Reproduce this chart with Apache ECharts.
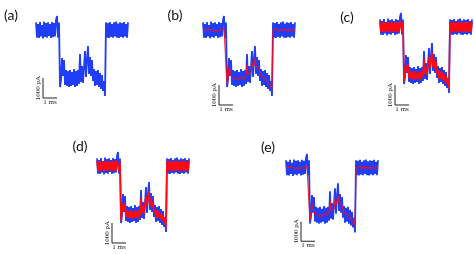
<!DOCTYPE html>
<html>
<head>
<meta charset="utf-8">
<script src="https://cdn.jsdelivr.net/npm/echarts@6/dist/echarts.min.js"></script>
<style>
html, body { margin: 0; padding: 0; background: #fff; }
#chart { width: 474px; height: 254px; }
</style>
</head>
<body>
<div id="chart"></div>
<script>
// current trace, one sample per index, pA
const samplesPerMs = 14
const scaleBarPA = 1000
const panelLabels = ['(a)', '(b)', '(c)', '(d)', '(e)']

// raw measured trace (blue)
const blueCurrent = [
	4380, 3620, 4300, 3600, 4400, 3680, 4250, 3580, 4420, 3650,
	4350, 3620, 4380, 3700, 4300, 3600, 4400, 3640, 4350, 3680,
	4500, 4700, 3620, 4380,
	1150, 1500, 2600, 1700, 2500, 1250, 2000, 1200, 1950, 1150,
	2000, 1200, 1900, 1250, 2050, 1150, 1950, 1200, 2000, 1300,
	2800, 1400, 2200, 1350, 2150, 2950, 1650, 2550, 3200, 1800,
	2650, 1700, 2500, 1450, 2050, 1200, 1950, 1250, 2000, 1150,
	1850, 1050, 1750, 950, 1450, 700,
	4380, 3620, 4350, 3600, 4400, 3650, 4300, 3620, 4380, 3680,
	4420, 3620, 4320, 3600, 4380, 3650, 4350, 3620, 4400, 3680,
	4300, 3620, 4380
]

// denoised trace, thin line (b, e)
const redSmooth = [
	4000, 4030, 3980, 4020, 3970, 4010, 4040, 3990, 4000, 3960,
	4030, 4000, 3980, 4020, 4000, 3970, 4030, 3990, 4010, 4000,
	4060, 4080, 3990, 4010,
	1300, 1600, 2200, 1900, 2000, 1600, 1650, 1550, 1600, 1550,
	1600, 1500, 1550, 1600, 1650, 1550, 1600, 1550, 1650, 1700,
	2300, 1800, 1850, 1800, 1900, 2400, 2100, 2300, 2600, 2200,
	2250, 2100, 2050, 1800, 1700, 1650, 1600, 1600, 1600, 1550,
	1450, 1400, 1350, 1250, 1200, 1050,
	4000, 4050, 3950, 4060, 3960, 4040, 3950, 4060, 3970, 4050,
	3940, 4060, 3960, 4050, 3950, 4040, 3960, 4060, 3950, 4050,
	3970, 4040, 3960
]

// denoised trace, noisy band (c, d)
const redNoisy = [
	4250, 3760, 4220, 3740, 4260, 3780, 4200, 3750, 4240, 3770,
	4230, 3740, 4250, 3780, 4210, 3750, 4260, 3760, 4230, 3740,
	4300, 4350, 3760, 4240,
	1250, 1700, 2100, 1750, 2150, 1450, 1800, 1400, 1750, 1400,
	1800, 1350, 1700, 1400, 1800, 1400, 1750, 1350, 1800, 1500,
	2400, 1650, 2000, 1600, 2050, 2500, 1950, 2400, 2750, 2000,
	2400, 1900, 2250, 1650, 1850, 1400, 1800, 1400, 1750, 1350,
	1650, 1250, 1550, 1150, 1400, 900,
	4240, 3760, 4230, 3750, 4260, 3770, 4220, 3740, 4250, 3780,
	4260, 3750, 4220, 3740, 4250, 3770, 4240, 3750, 4260, 3760,
	4230, 3750, 4250
]

const layout = [
	{ left: 36, top: 14, fit: null, bar: [7, 600], label: [11, 15] },
	{ left: 203, top: 14, fit: redSmooth, bar: [16, 250], label: [175, 15] },
	{ left: 380, top: 11, fit: redNoisy, bar: [15, 100], label: [347, 17] },
	{ left: 97, top: 150, fit: redNoisy, bar: [15, 150], label: [80, 146] },
	{ left: 286, top: 152, fit: redSmooth, bar: [15, 250], label: [268, 147] }
]

const toPairs = arr => arr.map((v, i) => [i, v])

const chart = echarts.init(document.getElementById('chart'), null, { renderer: 'canvas' })

let grids = [], xAxes = [], yAxes = [], series = []
layout.forEach((p, i) => {
	grids.push({ left: p.left, top: p.top, width: 92, height: 104 })
	xAxes.push({ type: 'value', gridIndex: i, min: 0, max: 92, show: false })
	yAxes.push({ type: 'value', gridIndex: i, min: -400, max: 4800, show: false })
	series.push({
		type: 'line', xAxisIndex: i, yAxisIndex: i, data: toPairs(blueCurrent),
		symbol: 'none', silent: true, z: 2,
		lineStyle: { color: '#1f3ef5', width: 1.8 }
	})
	if (p.fit) {
		const smooth = p.fit === redSmooth
		series.push({
			type: 'line', xAxisIndex: i, yAxisIndex: i, data: toPairs(p.fit),
			symbol: 'none', silent: true, z: 3,
			lineStyle: { color: '#ff0a14', width: smooth ? 1.2 : 1.6, opacity: smooth ? 0.85 : 1 }
		})
	}
	// scale bar
	const [x0, yb] = p.bar
	series.push({
		type: 'line', xAxisIndex: i, yAxisIndex: i,
		data: [[x0, yb + scaleBarPA], [x0, yb], [x0 + samplesPerMs, yb]],
		symbol: 'none', silent: true, z: 4,
		lineStyle: { color: '#222', width: 1 }
	})
})

chart.setOption({
	animation: false,
	backgroundColor: '#fff',
	grid: grids,
	xAxis: xAxes,
	yAxis: yAxes,
	series: series
})

let graphics = []
layout.forEach((p, i) => {
	const [x0, yb] = p.bar
	const bot = chart.convertToPixel({ gridIndex: i }, [x0, yb])
	const top = chart.convertToPixel({ gridIndex: i }, [x0, yb + scaleBarPA])
	const end = chart.convertToPixel({ gridIndex: i }, [x0 + samplesPerMs, yb])
	graphics.push({
		type: 'text', x: bot[0] - 5, y: (bot[1] + top[1]) / 2, rotation: Math.PI / 2,
		style: { text: '1000 pA', fill: '#222', font: '7px "Liberation Serif"', align: 'center', verticalAlign: 'middle' }
	})
	graphics.push({
		type: 'text', x: (bot[0] + end[0]) / 2, y: bot[1] + 4,
		style: { text: '1 ms', fill: '#222', font: '7px "Liberation Serif"', align: 'center', verticalAlign: 'middle' }
	})
	graphics.push({
		type: 'text', x: p.label[0], y: p.label[1],
		style: { text: panelLabels[i], fill: '#111', font: '14px Lato', align: 'center', verticalAlign: 'middle' }
	})
})
chart.setOption({ graphic: graphics })
</script>
</body>
</html>
